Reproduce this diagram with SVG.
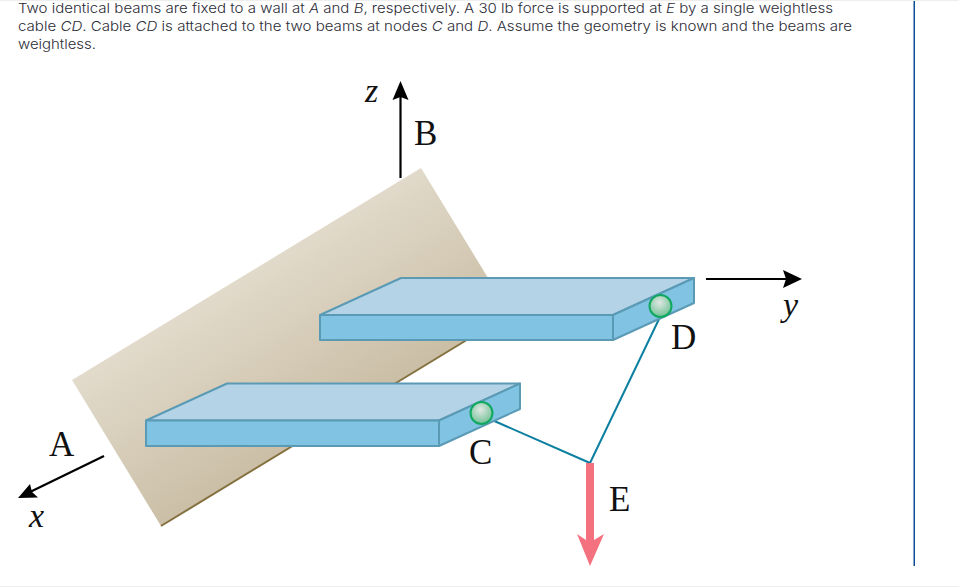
<svg xmlns="http://www.w3.org/2000/svg" width="959" height="587" viewBox="0 0 959 587">
<style>
.t{font-family:Inter,"Liberation Sans",sans-serif;font-size:13.5px;font-weight:300;fill:#2d2d38}
.i{font-style:italic}
.l{font-family:"Liberation Serif",serif;font-size:35px;fill:#111}
.v{font-family:"Liberation Serif",serif;font-size:34px;font-style:italic;fill:#111}
.top{fill:#b4d3e6;stroke:#5a9ab5;stroke-width:2;stroke-linejoin:round}
.face{fill:#80c3e3;stroke:#5a9ab5;stroke-width:2;stroke-linejoin:round}
.cable{fill:none;stroke:#0a7f9f;stroke-width:2}
.axis{fill:none;stroke:#000;stroke-width:2.2}
.ball{fill:url(#bg);stroke:#10a860;stroke-width:2}
</style>
<defs>
<linearGradient id="wg" gradientUnits="userSpaceOnUse" x1="230" y1="270" x2="345" y2="450">
<stop offset="0" stop-color="#e3dccd"/><stop offset="1" stop-color="#c6b99f"/>
</linearGradient>
<radialGradient id="bg" cx="0.45" cy="0.35" r="0.75">
<stop offset="0" stop-color="#e0e8e4"/><stop offset="1" stop-color="#5fbb88"/>
</radialGradient>
</defs>
<rect width="959" height="587" fill="#fff"/>
<rect x="0" y="0" width="959" height="1" fill="#eeeeee"/>
<rect x="0" y="586" width="959" height="1" fill="#eeeeee"/>
<rect id="rule" x="913.500" y="1" width="1.500" height="565" fill="#0a4f96"/>
<g id="text">
<text class="t" x="18" y="13" textLength="815" lengthAdjust="spacingAndGlyphs">Two identical beams are fixed to a wall at <tspan class="i">A</tspan> and <tspan class="i">B</tspan>, respectively. A 30 lb force is supported at <tspan class="i">E</tspan> by a single weightless</text>
<text class="t" x="18" y="31" textLength="834" lengthAdjust="spacingAndGlyphs">cable <tspan class="i">CD</tspan>. Cable <tspan class="i">CD</tspan> is attached to the two beams at nodes <tspan class="i">C</tspan> and <tspan class="i">D</tspan>. Assume the geometry is known and the beams are</text>
<text class="t" x="18" y="49" textLength="78" lengthAdjust="spacingAndGlyphs">weightless.</text>
</g>
<g id="wall">
<polygon points="72,380 421,168 510,314 161,526" fill="url(#wg)"/>
<line x1="161" y1="526" x2="470" y2="338" stroke="#85713f" stroke-width="2"/>
</g>
<g id="connectors">
<g id="axis-z"><line class="axis" x1="400.500" y1="178" x2="400.500" y2="92"/><path d="M400.500,81 L408.500,100 L400.500,97 L392.500,100Z"/></g>
<g id="axis-y"><line class="axis" x1="706" y1="279" x2="790" y2="279"/><path d="M802,279 L783,288 L786,279 L783,270Z"/></g>
<g id="axis-x"><line class="axis" x1="104" y1="456" x2="30" y2="492"/><path d="M18,498 L30,484 L32,492 L38,497.500Z"/></g>
<line class="cable" x1="660" y1="317" x2="590" y2="463"/>
<line class="cable" x1="492" y1="420" x2="590" y2="463"/>
</g>
<g id="beam-upper">
<polygon class="top" points="320,315 401,278 694,278 613,315"/>
<polygon class="face" points="320,315 613,315 613,340 320,340"/>
<polygon class="face" points="613,315 694,278 694,303 613,340"/>
</g>
<g id="beam-lower">
<polygon class="top" points="146,420.500 227,383.500 520,383.500 439,420.500"/>
<polygon class="face" points="146,420.500 439,420.500 439,446 146,446"/>
<polygon class="face" points="439,420.500 520,383.500 520,409 439,446"/>
</g>
<g id="node-D"><circle class="ball" cx="660.500" cy="306" r="11"/></g>
<g id="node-C"><circle class="ball" cx="481.500" cy="413" r="11"/></g>
<g id="force-E">
<path d="M586,463 H594 V540 L604,534 L590,566 L577,534 L586,540Z" fill="#f4717f"/>
</g>
<g id="labels">
<text class="l" x="49" y="456">A</text>
<text class="l" x="414" y="145">B</text>
<text class="l" x="469" y="464">C</text>
<text class="l" x="671" y="349">D</text>
<text class="l" x="609" y="511">E</text>
<text class="v" x="29" y="527">x</text>
<text class="v" x="365" y="102">z</text>
<text class="v" x="783" y="316">y</text>
</g>
</svg>
